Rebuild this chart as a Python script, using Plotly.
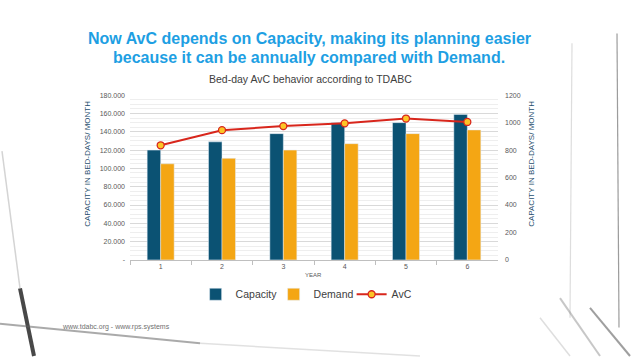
import plotly.graph_objects as go

years = ["1", "2", "3", "4", "5", "6"]
capacity = [120000, 129000, 138000, 150000, 150000, 159000]
demand = [105000, 111000, 120000, 127000, 138000, 142000]
avc = [835, 945, 975, 995, 1030, 1005]

left_ticks = [0, 20000, 40000, 60000, 80000, 100000, 120000, 140000, 160000, 180000]
left_labels = ["-", "20.000", "40.000", "60.000", "80.000", "100.000", "120.000", "140.000", "160.000", "180.000"]
right_ticks = [0, 200, 400, 600, 800, 1000, 1200]

W, H = 638, 359
def px(x): return x / W
def py(y): return 1 - y / H

fig = go.Figure()
fig.add_trace(go.Bar(x=years, y=capacity, name="Capacity", marker_color="#0b5273"))
fig.add_trace(go.Bar(x=years, y=demand, name="Demand", marker_color="#f4a614"))
fig.add_trace(go.Scatter(x=years, y=avc, name="AvC", yaxis="y2", mode="lines+markers",
                         line=dict(color="#d8261c", width=2),
                         marker=dict(size=7, color="#fcc526", line=dict(color="#d8261c", width=1.3))))

tick_font = dict(family="Liberation Sans", size=7, color="#595959")
fig.update_layout(
    width=W, height=H, margin=dict(l=0, r=0, t=0, b=0),
    paper_bgcolor="white", plot_bgcolor="rgba(0,0,0,0)",
    barmode="group", bargap=0.56, bargroupgap=0,
    showlegend=True,
    legend=dict(orientation="h", x=0.49, xanchor="center", y=py(296), yanchor="middle",
                font=dict(family="Liberation Sans", size=10.5, color="#404040"), itemwidth=30,
                entrywidth=33, entrywidthmode="pixels",
                bgcolor="rgba(0,0,0,0)"),
    xaxis=dict(domain=[px(130), px(498)], type="category", showgrid=False,
               showline=True, linecolor="#bfbfbf", linewidth=1,
               ticks="outside", ticklen=4, tickcolor="#bfbfbf", tickson="boundaries",
               tickfont=tick_font),
    yaxis=dict(domain=[py(261), py(93)], range=[0, 180000], tickvals=left_ticks, ticktext=left_labels,
               showgrid=True, gridcolor="#d9d9d9", gridwidth=1, zeroline=False,
               minor=dict(dtick=5000, showgrid=True, gridcolor="#eeeeee", gridwidth=1),
               tickfont=tick_font, ticks="", ticklabelstandoff=4),
    yaxis2=dict(overlaying="y", side="right", range=[0, 1200], tickvals=right_ticks,
                showgrid=False, zeroline=False, tickfont=tick_font, ticks="", ticklabelstandoff=6),
)

# decorative background lines
shapes = [
    dict(x0=px(617), y0=py(30), x1=px(619), y1=py(330), color="rgba(90,90,90,0.6)", w=1.2),
    dict(x0=px(572), y0=py(40), x1=px(570), y1=py(320), color="rgba(180,180,180,0.45)", w=1.2),
    dict(x0=px(20), y0=py(290), x1=px(34), y1=py(359), color="rgba(40,40,40,0.85)", w=4),
    dict(x0=px(2), y0=py(150), x1=px(20), y1=py(290), color="rgba(160,160,160,0.45)", w=1.5),
    dict(x0=px(0), y0=py(326), x1=px(200), y1=py(346), color="rgba(100,100,100,0.55)", w=2),
    dict(x0=px(200), y0=py(346), x1=px(420), y1=py(359), color="rgba(170,170,170,0.35)", w=1.5),
    dict(x0=px(560), y0=py(300), x1=px(600), y1=py(359), color="rgba(130,130,130,0.45)", w=2),
    dict(x0=px(590), y0=py(310), x1=px(630), y1=py(359), color="rgba(80,80,80,0.55)", w=2),
    dict(x0=px(540), y0=py(320), x1=px(570), y1=py(359), color="rgba(160,160,160,0.35)", w=1.5),
]
fig.update_layout(shapes=[dict(type="line", xref="paper", yref="paper", x0=s["x0"], y0=s["y0"],
                               x1=s["x1"], y1=s["y1"], layer="below",
                               line=dict(color=s["color"], width=s["w"])) for s in shapes])

title_font = dict(family="Liberation Sans", size=16, color="#1e9fe3", weight=700)
ann = [
    dict(text="Now AvC depends on Capacity, making its planning easier", x=px(309), y=py(35.5), font=title_font),
    dict(text="because it can be annually compared with Demand.", x=px(309), y=py(54.5), font=title_font),
    dict(text="Bed-day AvC behavior according to TDABC", x=px(310), y=py(77),
         font=dict(family="Liberation Sans", size=10.5, color="#404040")),
    dict(text="YEAR", x=px(313), y=py(276), font=dict(family="Liberation Sans", size=6, color="#595959")),
    dict(text="CAPACITY IN BED-DAYS/ MONTH", x=px(88), y=py(163), textangle=-90,
         font=dict(family="Liberation Sans", size=8, color="#1f4e6e")),
    dict(text="CAPACITY IN BED-DAYS/ MONTH", x=px(532), y=py(163), textangle=-90,
         font=dict(family="Liberation Sans", size=8, color="#1f4e6e")),
    dict(text="www.tdabc.org - www.rps.systems", x=px(60), y=py(329), xanchor="left",
         font=dict(family="Liberation Sans", size=7, color="#707070")),
]
fig.update_layout(annotations=[dict(xref="paper", yref="paper", showarrow=False,
                                    xanchor=a.get("xanchor", "center"), yanchor="middle", **{k: v for k, v in a.items() if k != "xanchor"}) for a in ann])

fig.write_html("out.html", config={"displayModeBar": False},
               post_script="document.body.style.margin='0';document.body.style.padding='0';")
